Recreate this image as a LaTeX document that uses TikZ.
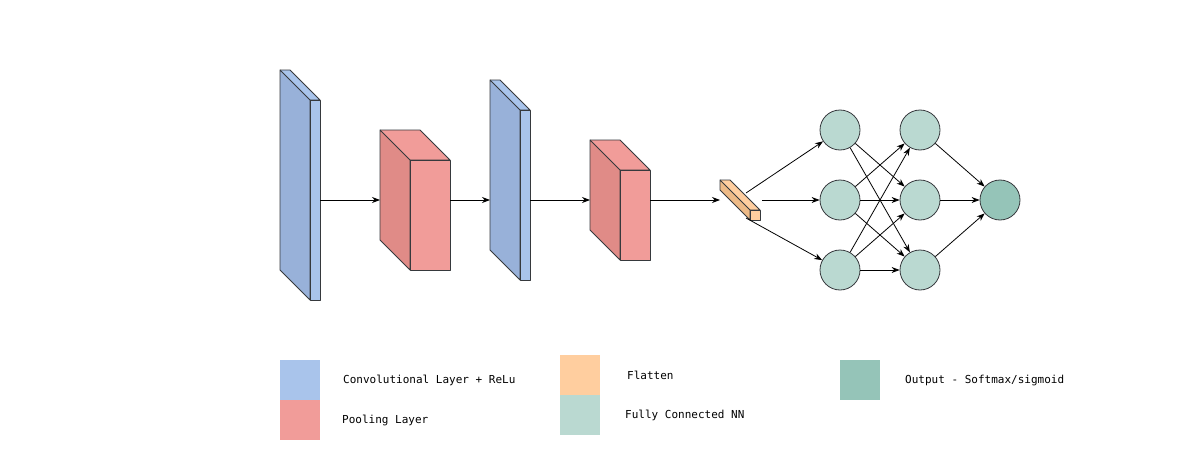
\documentclass[tikz,border=0pt]{standalone}
\usepackage{fontspec}
\setmonofont{DejaVu Sans Mono}
\usetikzlibrary{arrows.meta}
\definecolor{convF}{HTML}{A9C4EB}
\definecolor{convS}{HTML}{98B1D9}
\definecolor{poolF}{HTML}{F19C99}
\definecolor{poolS}{HTML}{E08B87}
\definecolor{flatF}{HTML}{FFCE9F}
\definecolor{flatS}{HTML}{EDBA87}
\definecolor{fcF}{HTML}{BAD9D1}
\definecolor{outF}{HTML}{95C4B8}
\definecolor{edge}{HTML}{36393D}
\tikzset{
  box/.style={draw=edge, line width=0.9pt, line join=round},
  neuron/.style={circle, draw=edge, fill=fcF, minimum size=40pt, inner sep=0pt, line width=0.8pt},
  arr/.style={-{Stealth[length=8pt,width=6pt]}, line width=0.8pt},
  lab/.style={anchor=west, font=\fontsize{11}{13}\selectfont\ttfamily, inner sep=0pt},
  leg/.style={minimum size=40pt, inner sep=0pt}
}
% slab: front rect x1,y1,x2,y2, depth d
\newcommand{\slab}[7]{%
  \fill[#6] (#1-#5,#2-#5) -- (#1,#2) -- (#1,#4) -- (#1-#5,#4-#5) -- cycle;
  \fill[#7] (#1-#5,#2-#5) -- (#3-#5,#2-#5) -- (#3,#2) -- (#1,#2) -- cycle;
  \fill[#7] (#1,#2) rectangle (#3,#4);
  \draw[box] (#1-#5,#2-#5) -- (#1,#2) -- (#1,#4) -- (#1-#5,#4-#5) -- cycle;
  \draw[box] (#1-#5,#2-#5) -- (#3-#5,#2-#5) -- (#3,#2) -- (#1,#2);
  \draw[box] (#1,#2) rectangle (#3,#4);
}
\begin{document}
\begin{tikzpicture}[x=1pt,y=-1pt]
\useasboundingbox (0,0) rectangle (1200,471);

\slab{310}{100}{320}{300}{30}{convS}{convF}
\slab{410}{160}{450}{270}{30}{poolS}{poolF}
\slab{520}{110}{530}{280}{30}{convS}{convF}
\slab{620}{170}{650}{260}{30}{poolS}{poolF}
\slab{750}{210}{760}{220}{30}{flatS}{flatF}

\coordinate (c1) at (320,200);
\coordinate (p1) at (380,200);
\coordinate (p1o) at (450,200);
\coordinate (c2) at (490,200);
\coordinate (c2o) at (530,200);
\coordinate (p2) at (590,200);
\coordinate (p2o) at (650,200);
\coordinate (f) at (720,200);
\coordinate (fa) at (746,193);
\coordinate (fb) at (762,200);
\coordinate (fc) at (746,218);

\draw[arr] (c1) -- (p1);
\draw[arr] (p1o) -- (c2);
\draw[arr] (c2o) -- (p2);
\draw[arr] (p2o) -- (f);

\node[neuron] (a1) at (840,130) {};
\node[neuron] (a2) at (840,200) {};
\node[neuron] (a3) at (840,270) {};
\node[neuron] (b1) at (920,130) {};
\node[neuron] (b2) at (920,200) {};
\node[neuron] (b3) at (920,270) {};
\node[neuron, fill=outF] (o) at (1000,200) {};

\draw[arr] (fa) -- (a1);
\draw[arr] (fb) -- (a2);
\draw[arr] (fc) -- (a3);
\foreach \s/\t in {a1/b2,a1/b3,a2/b1,a2/b2,a2/b3,a3/b1,a3/b2,a3/b3}
  \draw[arr] (\s) -- (\t);
\foreach \s in {b1,b2,b3}
  \draw[arr] (\s) -- (o);

% legend
\node[leg, fill=convF] (lc) at (300,380) {};
\node[leg, fill=poolF] (lp) at (300,420) {};
\node[leg, fill=flatF] (lf) at (580,375) {};
\node[leg, fill=fcF] (ln) at (580,415) {};
\node[leg, fill=outF] (lo) at (860,380) {};
\node[lab] (tc) at (343,380) {Convolutional Layer + ReLu};
\node[lab] (tp) at (342,420) {Pooling Layer};
\node[lab] (tf) at (627,375) {Flatten};
\node[lab] (tn) at (625,415) {Fully Connected NN};
\node[lab] (to) at (905,380) {Output - Softmax/sigmoid};
\end{tikzpicture}
\end{document}
